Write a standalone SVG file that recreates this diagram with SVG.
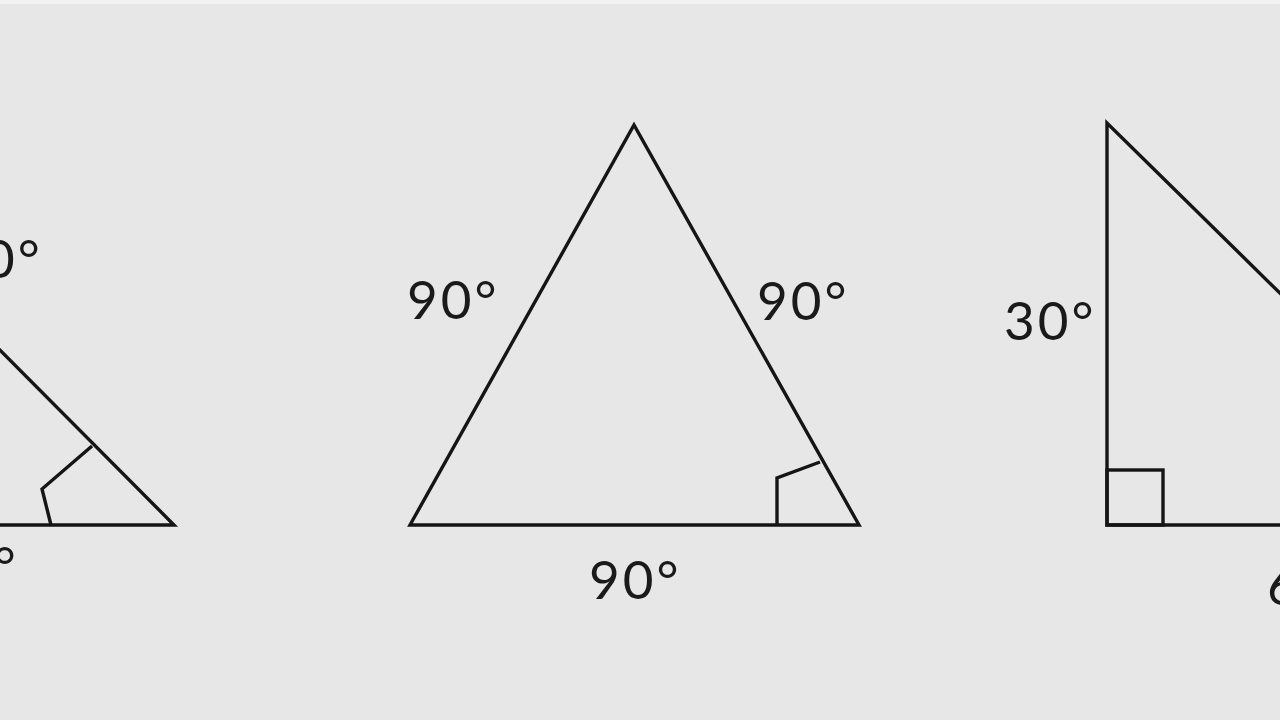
<svg xmlns="http://www.w3.org/2000/svg" width="1280" height="720" viewBox="0 0 1280 720">
<style>
.s{fill:none;stroke:#151515;stroke-width:3.4;stroke-linejoin:miter;stroke-linecap:butt}
.t{font-family:Lato,"Open Sans",sans-serif;font-size:53px;letter-spacing:3px;fill:#1a1a1a}
</style>
<rect width="1280" height="720" fill="#e7e7e7"/>
<rect width="1280" height="4" fill="#f2f2f2"/>
<g id="left-triangle">
<polyline class="s" points="-10,340 174,525 -10,525"/>
<polyline class="s" points="92,446 42,489 51,525"/>
<text class="t" x="-16" y="278">0°</text>
<text class="t" x="-40" y="585">0°</text>
</g>
<g id="middle-triangle">
<polygon class="s" points="410,525 634,125 859,525"/>
<polyline class="s" points="777,525 777,478 820,462"/>
<text class="t" x="407" y="319">90°</text>
<text class="t" x="757" y="320">90°</text>
<text class="t" x="589" y="599">90°</text>
</g>
<g id="right-triangle">
<polyline class="s" points="1290,303 1107,123 1107,525 1290,525"/>
<rect class="s" x="1107" y="470" width="56" height="55"/>
<text class="t" x="1004" y="340">30°</text>
<text class="t" x="1267" y="605">6</text>
</g>
<g id="connectors"/>
</svg>
